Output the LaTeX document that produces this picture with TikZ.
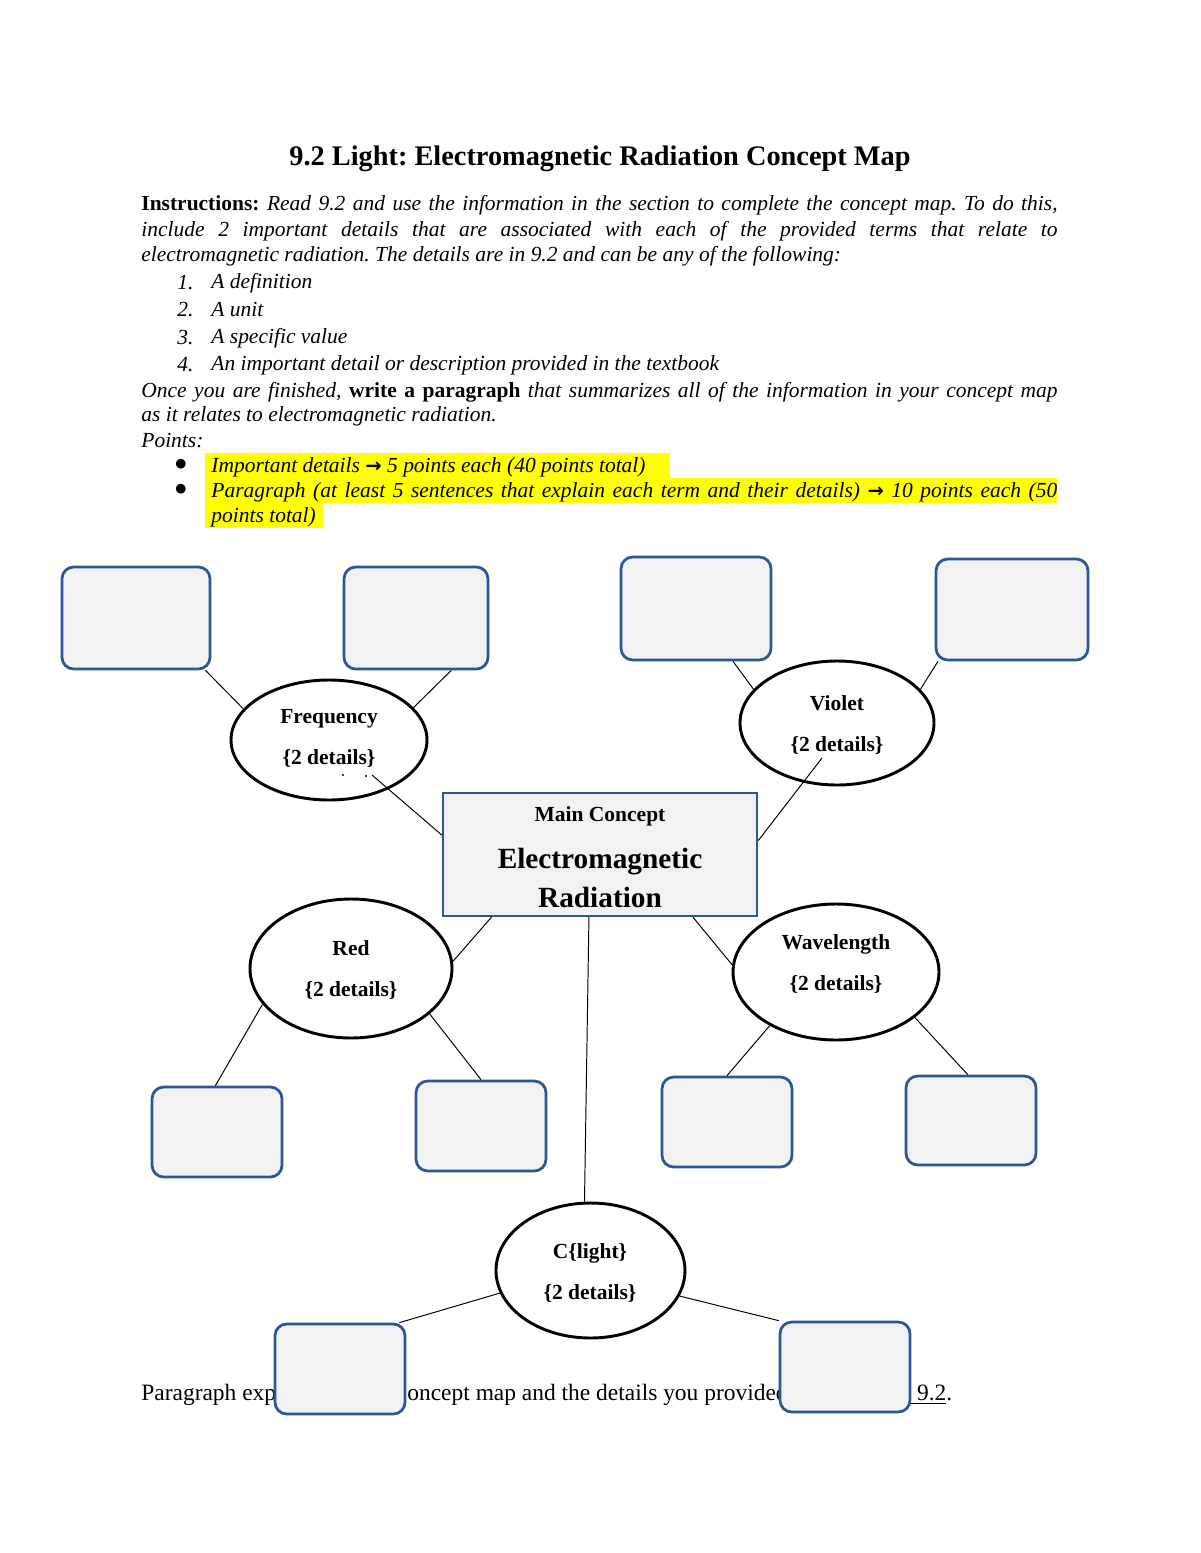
\documentclass[tikz,border=0pt]{standalone}
\usepackage{fontspec}
\setmainfont{Liberation Serif}
\newfontfamily\dejavu{DejaVu Sans}
\usetikzlibrary{shapes.geometric}
\definecolor{bblue}{HTML}{2F5597}
\definecolor{bfill}{HTML}{F2F2F2}
\definecolor{hl}{HTML}{FFFF00}
\def\pxu{0.51188pt}
\newcommand\myarr{{\dejavu\bfseries\fontsize{10}{12}\selectfont →}}
\begin{document}
\frenchspacing
\begin{tikzpicture}[x=0.51188pt,y=-0.51188pt,
 dbox/.style={draw=bblue, fill=bfill, line width=1.4pt, rounded corners=6pt, inner sep=0pt},
 term/.style={draw=black, fill=white, ellipse, line width=1.5pt, inner sep=0pt},
 lbl/.style={inner sep=0pt, align=center, font=\bfseries\fontsize{11}{21}\selectfont},
 link/.style={draw=black, line width=0.5pt},
 txt/.style={anchor=west, inner sep=0pt, font=\fontsize{11}{13}\selectfont},
 bul/.style={anchor=west, inner sep=0pt, font=\dejavu\fontsize{6.5}{7}\selectfont},
 hlbox/.style={fill=hl, draw=none}]
\useasboundingbox (0,0) rectangle (1200,1553);
% title
\node[inner sep=0pt, font=\bfseries\fontsize{14.5}{17}\selectfont] (title) at (600,159) {9.2 Light: Electromagnetic Radiation Concept Map};
% instructions
\node[txt] (l1) at (141,205) {\makebox[469pt][s]{\textbf{Instructions:} \itshape Read 9.2 and use the information in the section to complete the concept map. To do this,}};
\node[txt] (l2) at (141,231) {\makebox[469pt][s]{\itshape include 2 important details that are associated with each of the provided terms that relate to}};
\node[txt] (l3) at (141,256) {\itshape electromagnetic radiation. The details are in 9.2 and can be any of the following:};
\node[txt] (n1) at (177,283) {\itshape 1.};
\node[txt] (i1) at (211,283) {\itshape A definition};
\node[txt] (n2) at (177,310) {\itshape 2.};
\node[txt] (i2) at (211,310) {\itshape A unit};
\node[txt] (n3) at (177,338) {\itshape 3.};
\node[txt] (i3) at (211,338) {\itshape A specific value};
\node[txt] (n4) at (177,365) {\itshape 4.};
\node[txt] (i4) at (211,365) {\itshape An important detail or description provided in the textbook};
\node[txt] (l4) at (141,392) {\makebox[469pt][s]{\itshape Once you are finished, \upshape\bfseries write a paragraph \mdseries\itshape that summarizes all of the information in your concept map}};
\node[txt] (l5) at (141,416) {\itshape as it relates to electromagnetic radiation.};
\node[txt] (l6) at (141,441) {\itshape Points:};
% highlights
\fill[hlbox] (205,453) rectangle (670,478);
\fill[hlbox] (205,478) rectangle (1057,503);
\fill[hlbox] (205,503) rectangle (323,528);
\node[bul] (d1) at (175,464) {●};
\node[bul] (d2) at (175,489) {●};
\node[txt] (p1) at (211,467) {\itshape Important details \myarr{} 5 points each (40 points total)};
\node[txt] (p2) at (211,492) {\makebox[433pt][s]{\itshape Paragraph (at least 5 sentences that explain each term and their details) \myarr{} 10 points each (50}};
\node[txt] (p3) at (211,517) {\itshape points total)};
% bottom paragraph text (partly hidden by boxes)
\node[anchor=west, inner sep=0pt, font=\fontsize{12}{14}\selectfont] (q1) at (141,1395) {Paragraph exp};
\node[anchor=west, inner sep=0pt, font=\fontsize{12}{14}\selectfont] (q2) at (407,1395) {oncept map and the details you provided};
\node[anchor=west, inner sep=0pt, font=\fontsize{12}{14}\selectfont] (q3) at (905,1395) {\underline{\ \ 9.2}.};
% detail boxes
\node[dbox, minimum width=148*\pxu, minimum height=102*\pxu] (b1) at (136,618) {};
\node[dbox, minimum width=144*\pxu, minimum height=102*\pxu] (b2) at (416,618) {};
\node[dbox, minimum width=150*\pxu, minimum height=103*\pxu] (b3) at (696,608.5) {};
\node[dbox, minimum width=152*\pxu, minimum height=101*\pxu] (b4) at (1012,609.5) {};
\node[dbox, minimum width=130*\pxu, minimum height=90*\pxu] (b5) at (217,1132) {};
\node[dbox, minimum width=130*\pxu, minimum height=90*\pxu] (b6) at (481,1126) {};
\node[dbox, minimum width=130*\pxu, minimum height=90*\pxu] (b7) at (727,1122) {};
\node[dbox, minimum width=130*\pxu, minimum height=89*\pxu] (b8) at (971,1120.5) {};
\node[dbox, minimum width=130*\pxu, minimum height=90*\pxu] (b9) at (340,1369) {};
\node[dbox, minimum width=130*\pxu, minimum height=90*\pxu] (b10) at (845,1367) {};
% main concept
\node[draw=bblue, fill=bfill, line width=1.2pt, inner sep=0pt, minimum width=314*\pxu, minimum height=123*\pxu] (main) at (600,854.5) {};
\node[inner sep=0pt, font=\bfseries\fontsize{11}{13}\selectfont] (mainh) at (600,816) {Main Concept};
\node[inner sep=0pt, font=\bfseries\fontsize{15}{18}\selectfont] (main1) at (600,862) {Electromagnetic};
\node[inner sep=0pt, font=\bfseries\fontsize{15}{18}\selectfont] (main2) at (600,897) {Radiation};
% terms
\node[term, minimum width=196*\pxu, minimum height=120*\pxu] (freq) at (329,740) {};
\node[term, minimum width=194*\pxu, minimum height=124*\pxu] (viol) at (837,723) {};
\node[term, minimum width=202*\pxu, minimum height=139*\pxu] (red) at (351,968.5) {};
\node[term, minimum width=206*\pxu, minimum height=136*\pxu] (wave) at (836,972) {};
\node[term, minimum width=189*\pxu, minimum height=135*\pxu] (cl) at (590.5,1270.5) {};
\node[lbl] (freqt) at (329,738) {Frequency\\\{2 details\}};
\node[lbl] (violt) at (837,725) {Violet\\\{2 details\}};
\node[lbl] (redt) at (351,970) {Red\\\{2 details\}};
\node[lbl] (wavet) at (836,964) {Wavelength\\\{2 details\}};
\node[lbl] (clt) at (590,1273) {C\{light\}\\\{2 details\}};
\fill (343,775) circle (1.2);
\fill (366,776) circle (1.2);
% connectors
\coordinate (fq1) at (372,775);
\coordinate (vi1) at (822,758);
\draw[link] (b1.-37) -- (freq.160);
\draw[link] (b2.-56) -- (freq.21);
\draw[link] (fq1) -- (main.173);
\draw[link] (b3.-55) -- (viol.158);
\draw[link] (b4.-145) -- (viol.22);
\draw[link] (vi1) -- (main.5);
\draw[link] (main.210) -- (red.4);
\draw[link] (main.-34) -- (wave.176);
\draw[link] (main.260) -- (cl.95);
\draw[link] (red.202) -- (b5.92);
\draw[link] (red.-30) -- (b6.90);
\draw[link] (wave.219) -- (b7.90);
\draw[link] (wave.-30) -- (b8.94);
\draw[link] (cl.194) -- (b9.38);
\draw[link] (cl.-16) -- (b10.145);
\end{tikzpicture}
\end{document}
